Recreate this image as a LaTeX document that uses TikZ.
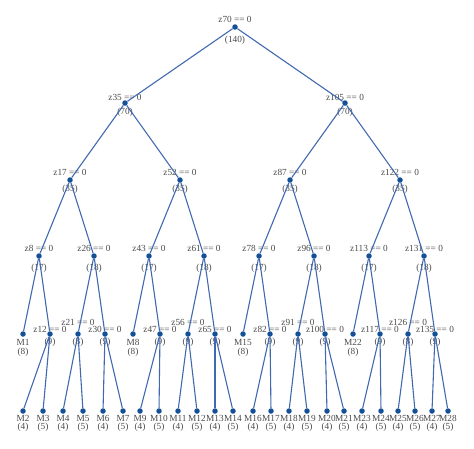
\documentclass[tikz,border=0pt]{standalone}
\usepackage{fontspec}
\setmainfont{Liberation Serif}
\definecolor{edgec}{RGB}{65,105,175}
\definecolor{dotc}{RGB}{20,80,150}
\definecolor{txtc}{RGB}{75,75,75}
\begin{document}
\begin{tikzpicture}[x=1pt,y=-1pt,
  dot/.style={circle,fill=dotc,inner sep=0pt,minimum size=5.5pt},
  edge/.style={draw=edgec,line width=1.1pt},
  lab/.style={text=txtc,inner sep=0pt,font=\fontsize{9.3}{10}\selectfont}]
\useasboundingbox (0,0) rectangle (474,448);
% internal nodes: name/x/y/count/label dy/count dy
\foreach \n/\x/\y/\c/\a/\b in {
  z70/235/27/140/-8/13,
  z35/125/103/70/-6/9, z105/345/103/70/-6/9,
  z17/70/180/35/-8/9, z52/180/180/35/-8/9, z87/290/180/35/-8/9, z122/400/180/35/-8/9,
  z8/39/256/17/-8/12, z26/94/256/18/-8/12, z43/149/256/17/-8/12, z61/204/256/18/-8/12,
  z78/259/256/17/-8/12, z96/314/256/18/-8/12, z113/369/256/17/-8/12, z131/424/256/18/-8/12,
  z12/50/334/9/-5/8, z21/78/334/8/-12/8, z30/105/334/9/-5/8,
  z47/160/334/9/-5/8, z56/188/334/9/-12/8, z65/215/334/9/-5/8,
  z82/270/334/9/-5/8, z91/298/334/9/-12/8, z100/325/334/9/-5/8,
  z117/380/334/9/-5/8, z126/408/334/8/-12/8, z135/435/334/9/-5/8}{
  \node[dot] (\n) at (\x,\y) {};
  \node[lab] (\n-l) at (\x,{\y+\a}) {\n{} == 0};
  \node[lab] (\n-c) at (\x,{\y+\b}) {(\c)};
}
% leaves at level 4: name/x/y/count
\foreach \n/\x/\y/\c in {
  M1/23/334/8, M8/133/334/8, M15/243/334/8, M22/353/334/8}{
  \node[dot] (\n) at (\x,\y) {};
  \node[lab] (\n-l) at (\x,{\y+8}) {\n};
  \node[lab] (\n-c) at (\x,{\y+18}) {(\c)};
}
% leaves at level 5: name/x/count
\foreach \n/\x/\c in {
  M2/23/4, M3/43/5, M4/63/4, M5/83/5, M6/103/4, M7/123/5,
  M9/140/4, M10/159/5, M11/178/4, M12/197/5, M13/215/4, M14/233/5,
  M16/253/4, M17/271/5, M18/289/4, M19/307/5, M20/327/4, M21/344/5,
  M23/362/4, M24/381/5, M25/398/4, M26/415/5, M27/432/4, M28/448/5}{
  \node[dot] (\n) at (\x,411) {};
  \node[lab] (\n-l) at (\x,418) {\n};
  \node[lab] (\n-c) at (\x,427) {(\c)};
}
% edges
\foreach \p/\q in {
  z70/z35, z70/z105,
  z35/z17, z35/z52, z105/z87, z105/z122,
  z17/z8, z17/z26, z52/z43, z52/z61, z87/z78, z87/z96, z122/z113, z122/z131,
  z8/M1, z8/z12, z26/z21, z26/z30, z43/M8, z43/z47, z61/z56, z61/z65,
  z78/M15, z78/z82, z96/z91, z96/z100, z113/M22, z113/z117, z131/z126, z131/z135,
  z12/M2, z12/M3, z21/M4, z21/M5, z30/M6, z30/M7,
  z47/M9, z47/M10, z56/M11, z56/M12, z65/M13, z65/M14,
  z82/M16, z82/M17, z91/M18, z91/M19, z100/M20, z100/M21,
  z117/M23, z117/M24, z126/M25, z126/M26, z135/M27, z135/M28}{
  \draw[edge] (\p) -- (\q);
}
\end{tikzpicture}
\end{document}
